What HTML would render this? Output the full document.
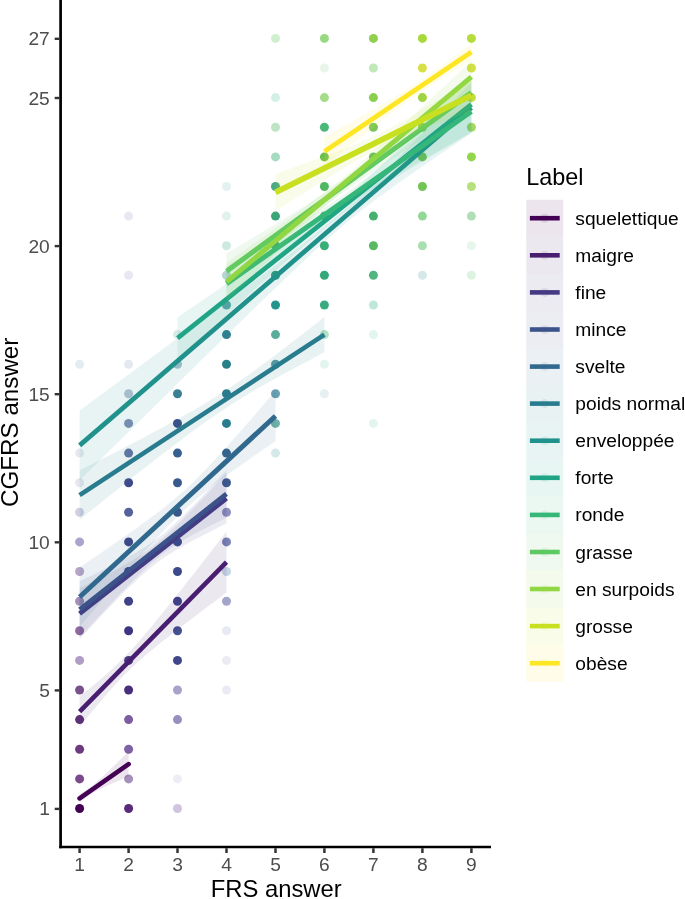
<!DOCTYPE html>
<html lang="fr"><head><meta charset="utf-8"><title>CGFRS answer vs FRS answer</title>
<style>
html,body{margin:0;padding:0;background:#fff;}
body{width:685px;height:899px;overflow:hidden;}
svg{display:block;}
text{font-family:"Liberation Sans",sans-serif;}
.tick{font-size:19.2px;fill:#4d4d4d;}
.ttl{font-size:23.4px;fill:#000;}
.leg{font-size:19.2px;fill:#000;}
</style></head><body>
<svg width="685" height="899" viewBox="0 0 685 899">
<rect width="685" height="899" fill="#ffffff"/>
<g id="points">
<circle cx="79.6" cy="808.5" r="4.50" fill="#440154"/>
<circle cx="79.6" cy="778.9" r="4.50" fill="#7a4a8a"/>
<circle cx="79.6" cy="749.3" r="4.50" fill="#6e3a7e"/>
<circle cx="79.6" cy="719.6" r="4.50" fill="#5e3078"/>
<circle cx="79.6" cy="690.0" r="4.50" fill="#7a4f8e"/>
<circle cx="79.6" cy="660.4" r="4.50" fill="#b09cc4"/>
<circle cx="79.6" cy="630.8" r="4.50" fill="#8f6a9f"/>
<circle cx="79.6" cy="601.2" r="4.50" fill="#a38fb8"/>
<circle cx="79.6" cy="571.5" r="4.50" fill="#b7a5c8"/>
<circle cx="79.6" cy="541.9" r="4.50" fill="#a9a5cc"/>
<circle cx="79.6" cy="512.3" r="4.50" fill="#d0d0e3"/>
<circle cx="79.6" cy="482.7" r="4.50" fill="#e8e6f0"/>
<circle cx="79.6" cy="453.1" r="4.50" fill="#e6e8f1"/>
<circle cx="79.6" cy="364.2" r="4.50" fill="#e3ecf0"/>
<circle cx="128.6" cy="808.5" r="4.50" fill="#5a2a7a"/>
<circle cx="128.6" cy="778.9" r="4.50" fill="#a58fbb"/>
<circle cx="128.6" cy="749.3" r="4.50" fill="#7e62a3"/>
<circle cx="128.6" cy="719.6" r="4.50" fill="#7c5ea0"/>
<circle cx="128.6" cy="690.0" r="4.50" fill="#46307c"/>
<circle cx="128.6" cy="660.4" r="4.50" fill="#4a3a85"/>
<circle cx="128.6" cy="630.8" r="4.50" fill="#3c3580"/>
<circle cx="128.6" cy="601.2" r="4.50" fill="#3f4287"/>
<circle cx="128.6" cy="571.5" r="4.50" fill="#3d3f85"/>
<circle cx="128.6" cy="541.9" r="4.50" fill="#3e4688"/>
<circle cx="128.6" cy="512.3" r="4.50" fill="#55629c"/>
<circle cx="128.6" cy="482.7" r="4.50" fill="#3f4a8a"/>
<circle cx="128.6" cy="453.1" r="4.50" fill="#6474a6"/>
<circle cx="128.6" cy="423.4" r="4.50" fill="#7f8db5"/>
<circle cx="128.6" cy="393.8" r="4.50" fill="#b5c2d4"/>
<circle cx="128.6" cy="364.2" r="4.50" fill="#e4e9ef"/>
<circle cx="128.6" cy="275.3" r="4.50" fill="#e8e8f2"/>
<circle cx="128.6" cy="216.1" r="4.50" fill="#e8e8f3"/>
<circle cx="177.5" cy="808.5" r="4.50" fill="#cfc5de"/>
<circle cx="177.5" cy="778.9" r="4.50" fill="#eeecf4"/>
<circle cx="177.5" cy="719.6" r="4.50" fill="#9590c0"/>
<circle cx="177.5" cy="690.0" r="4.50" fill="#a9a3cc"/>
<circle cx="177.5" cy="660.4" r="4.50" fill="#3f4788"/>
<circle cx="177.5" cy="630.8" r="4.50" fill="#45508f"/>
<circle cx="177.5" cy="601.2" r="4.50" fill="#3f4589"/>
<circle cx="177.5" cy="571.5" r="4.50" fill="#3d4a8a"/>
<circle cx="177.5" cy="541.9" r="4.50" fill="#3d4c8b"/>
<circle cx="177.5" cy="512.3" r="4.50" fill="#3c548c"/>
<circle cx="177.5" cy="482.7" r="4.50" fill="#3a5a8e"/>
<circle cx="177.5" cy="453.1" r="4.50" fill="#36608f"/>
<circle cx="177.5" cy="423.4" r="4.50" fill="#3a4f8b"/>
<circle cx="177.5" cy="393.8" r="4.50" fill="#3a8095"/>
<circle cx="177.5" cy="364.2" r="4.50" fill="#a5bfcf"/>
<circle cx="177.5" cy="334.6" r="4.50" fill="#d8ebea"/>
<circle cx="226.5" cy="690.0" r="4.50" fill="#ecebf4"/>
<circle cx="226.5" cy="660.4" r="4.50" fill="#ebebf4"/>
<circle cx="226.5" cy="630.8" r="4.50" fill="#e8eaf3"/>
<circle cx="226.5" cy="601.2" r="4.50" fill="#a5a5cc"/>
<circle cx="226.5" cy="571.5" r="4.50" fill="#c5d5e5"/>
<circle cx="226.5" cy="541.9" r="4.50" fill="#7a82b5"/>
<circle cx="226.5" cy="512.3" r="4.50" fill="#8e8fc0"/>
<circle cx="226.5" cy="482.7" r="4.50" fill="#3d5a90"/>
<circle cx="226.5" cy="453.1" r="4.50" fill="#35628f"/>
<circle cx="226.5" cy="423.4" r="4.50" fill="#287c8e"/>
<circle cx="226.5" cy="393.8" r="4.50" fill="#2a7a8e"/>
<circle cx="226.5" cy="364.2" r="4.50" fill="#2a8088"/>
<circle cx="226.5" cy="334.6" r="4.50" fill="#2f7f90"/>
<circle cx="226.5" cy="305.0" r="4.50" fill="#5fa6a8"/>
<circle cx="226.5" cy="275.3" r="4.50" fill="#b5d5d5"/>
<circle cx="226.5" cy="245.7" r="4.50" fill="#cdeae0"/>
<circle cx="226.5" cy="216.1" r="4.50" fill="#e0f2ee"/>
<circle cx="226.5" cy="186.5" r="4.50" fill="#e3f2f0"/>
<circle cx="275.5" cy="453.1" r="4.50" fill="#d5e8ea"/>
<circle cx="275.5" cy="423.4" r="4.50" fill="#6fb0a8"/>
<circle cx="275.5" cy="393.8" r="4.50" fill="#68a0b2"/>
<circle cx="275.5" cy="364.2" r="4.50" fill="#5a9aa5"/>
<circle cx="275.5" cy="334.6" r="4.50" fill="#5aad9c"/>
<circle cx="275.5" cy="305.0" r="4.50" fill="#23958a"/>
<circle cx="275.5" cy="275.3" r="4.50" fill="#2f9a80"/>
<circle cx="275.5" cy="245.7" r="4.50" fill="#35a07a"/>
<circle cx="275.5" cy="216.1" r="4.50" fill="#3aa577"/>
<circle cx="275.5" cy="186.5" r="4.50" fill="#4aa887"/>
<circle cx="275.5" cy="156.9" r="4.50" fill="#a5dcc0"/>
<circle cx="275.5" cy="127.2" r="4.50" fill="#bfe3c5"/>
<circle cx="275.5" cy="97.6" r="4.50" fill="#d3efe8"/>
<circle cx="275.5" cy="38.4" r="4.50" fill="#d0efd0"/>
<circle cx="324.4" cy="393.8" r="4.50" fill="#e6f0f2"/>
<circle cx="324.4" cy="364.2" r="4.50" fill="#e3f5ee"/>
<circle cx="324.4" cy="334.6" r="4.50" fill="#b4e1c4"/>
<circle cx="324.4" cy="305.0" r="4.50" fill="#3aab80"/>
<circle cx="324.4" cy="275.3" r="4.50" fill="#35a87a"/>
<circle cx="324.4" cy="245.7" r="4.50" fill="#3aae78"/>
<circle cx="324.4" cy="216.1" r="4.50" fill="#4ab070"/>
<circle cx="324.4" cy="186.5" r="4.50" fill="#50b860"/>
<circle cx="324.4" cy="156.9" r="4.50" fill="#68bf50"/>
<circle cx="324.4" cy="127.2" r="4.50" fill="#4ab878"/>
<circle cx="324.4" cy="97.6" r="4.50" fill="#a5dc8a"/>
<circle cx="324.4" cy="68.0" r="4.50" fill="#e8f6ea"/>
<circle cx="324.4" cy="38.4" r="4.50" fill="#98d880"/>
<circle cx="373.4" cy="423.4" r="4.50" fill="#e2f5ee"/>
<circle cx="373.4" cy="334.6" r="4.50" fill="#e2f5ee"/>
<circle cx="373.4" cy="305.0" r="4.50" fill="#c0e8d8"/>
<circle cx="373.4" cy="275.3" r="4.50" fill="#52b680"/>
<circle cx="373.4" cy="245.7" r="4.50" fill="#5ab860"/>
<circle cx="373.4" cy="216.1" r="4.50" fill="#45b070"/>
<circle cx="373.4" cy="156.9" r="4.50" fill="#6fc05a"/>
<circle cx="373.4" cy="127.2" r="4.50" fill="#7cc458"/>
<circle cx="373.4" cy="97.6" r="4.50" fill="#8bcf4f"/>
<circle cx="373.4" cy="68.0" r="4.50" fill="#c0e8b8"/>
<circle cx="373.4" cy="38.4" r="4.50" fill="#8fd04e"/>
<circle cx="422.4" cy="275.3" r="4.50" fill="#d5e8ea"/>
<circle cx="422.4" cy="245.7" r="4.50" fill="#a9dfb0"/>
<circle cx="422.4" cy="216.1" r="4.50" fill="#94d898"/>
<circle cx="422.4" cy="186.5" r="4.50" fill="#72c455"/>
<circle cx="422.4" cy="156.9" r="4.50" fill="#7cc650"/>
<circle cx="422.4" cy="127.2" r="4.50" fill="#8fcf4a"/>
<circle cx="422.4" cy="97.6" r="4.50" fill="#9fd43f"/>
<circle cx="422.4" cy="68.0" r="4.50" fill="#d8e048"/>
<circle cx="422.4" cy="38.4" r="4.50" fill="#a8d93a"/>
<circle cx="471.4" cy="275.3" r="4.50" fill="#dcf3df"/>
<circle cx="471.4" cy="245.7" r="4.50" fill="#e6f6ec"/>
<circle cx="471.4" cy="216.1" r="4.50" fill="#b0deb5"/>
<circle cx="471.4" cy="186.5" r="4.50" fill="#b5e27a"/>
<circle cx="471.4" cy="156.9" r="4.50" fill="#92d64a"/>
<circle cx="471.4" cy="127.2" r="4.50" fill="#a5d860"/>
<circle cx="471.4" cy="97.6" r="4.50" fill="#c5dc40"/>
<circle cx="471.4" cy="68.0" r="4.50" fill="#d3e044"/>
<circle cx="471.4" cy="38.4" r="4.50" fill="#b5dc38"/>
</g>
<g id="smooth">
<polygon points="79.6,793.7 81.1,792.9 82.7,792.0 84.2,791.1 85.7,790.2 87.3,789.2 88.8,788.1 90.3,787.0 91.8,785.9 93.4,784.7 94.9,783.4 96.4,782.2 98.0,780.8 99.5,779.5 101.0,778.1 102.6,776.7 104.1,775.3 105.6,773.9 107.1,772.4 108.7,771.0 110.2,769.5 111.7,768.1 113.3,766.6 114.8,765.1 116.3,763.6 117.9,762.1 119.4,760.6 120.9,759.1 122.4,757.6 124.0,756.1 125.5,754.6 127.0,753.1 128.6,751.6 128.6,776.5 127.0,777.2 125.5,777.8 124.0,778.4 122.4,779.1 120.9,779.7 119.4,780.4 117.9,781.0 116.3,781.7 114.8,782.4 113.3,783.0 111.7,783.7 110.2,784.4 108.7,785.1 107.1,785.8 105.6,786.5 104.1,787.2 102.6,787.9 101.0,788.7 99.5,789.5 98.0,790.3 96.4,791.1 94.9,791.9 93.4,792.8 91.8,793.8 90.3,794.8 88.8,795.8 87.3,796.9 85.7,798.1 84.2,799.3 82.7,800.6 81.1,801.8 79.6,803.2" fill="#440154" fill-opacity="0.10"/>
<line x1="79.6" y1="798.4" x2="128.6" y2="764.1" stroke="#440154" stroke-width="4.6" stroke-linecap="round"/>
<polygon points="79.6,696.2 84.2,692.6 88.8,688.9 93.4,685.2 98.0,681.4 102.6,677.5 107.1,673.5 111.7,669.4 116.3,665.1 120.9,660.6 125.5,656.0 130.1,651.2 134.7,646.1 139.3,641.0 143.9,635.6 148.5,630.2 153.1,624.7 157.6,619.1 162.2,613.4 166.8,607.7 171.4,602.0 176.0,596.2 180.6,590.4 185.2,584.6 189.8,578.7 194.4,572.9 199.0,567.0 203.6,561.1 208.1,555.2 212.7,549.3 217.3,543.4 221.9,537.5 226.5,531.6 226.5,592.6 221.9,596.0 217.3,599.4 212.7,602.9 208.1,606.3 203.6,609.8 199.0,613.2 194.4,616.7 189.8,620.2 185.2,623.7 180.6,627.2 176.0,630.8 171.4,634.3 166.8,637.9 162.2,641.6 157.6,645.3 153.1,649.0 148.5,652.8 143.9,656.8 139.3,660.8 134.7,665.0 130.1,669.3 125.5,673.8 120.9,678.5 116.3,683.4 111.7,688.5 107.1,693.7 102.6,699.0 98.0,704.5 93.4,710.0 88.8,715.6 84.2,721.3 79.6,727.0" fill="#481f70" fill-opacity="0.10"/>
<line x1="79.6" y1="711.6" x2="226.5" y2="562.1" stroke="#481f70" stroke-width="4.6"/>
<polygon points="79.6,588.1 84.2,585.9 88.8,583.6 93.4,581.3 98.0,579.0 102.6,576.7 107.1,574.3 111.7,571.9 116.3,569.4 120.9,566.9 125.5,564.4 130.1,561.7 134.7,558.9 139.3,556.0 143.9,552.9 148.5,549.7 153.1,546.2 157.6,542.5 162.2,538.6 166.8,534.5 171.4,530.3 176.0,525.9 180.6,521.4 185.2,516.8 189.8,512.1 194.4,507.3 199.0,502.5 203.6,497.7 208.1,492.9 212.7,488.0 217.3,483.1 221.9,478.1 226.5,473.2 226.5,523.6 221.9,525.8 217.3,528.1 212.7,530.4 208.1,532.7 203.6,535.0 199.0,537.4 194.4,539.8 189.8,542.3 185.2,544.8 180.6,547.4 176.0,550.1 171.4,552.9 166.8,555.8 162.2,558.9 157.6,562.2 153.1,565.8 148.5,569.5 143.9,573.4 139.3,577.6 134.7,581.9 130.1,586.3 125.5,590.8 120.9,595.5 116.3,600.1 111.7,604.9 107.1,609.7 102.6,614.5 98.0,619.4 93.4,624.3 88.8,629.2 84.2,634.1 79.6,639.1" fill="#443983" fill-opacity="0.10"/>
<line x1="79.6" y1="613.6" x2="226.5" y2="498.4" stroke="#443983" stroke-width="4.7"/>
<polygon points="79.6,581.3 84.2,579.1 88.8,576.9 93.4,574.7 98.0,572.4 102.6,570.1 107.1,567.8 111.7,565.5 116.3,563.2 120.9,560.8 125.5,558.3 130.1,555.8 134.7,553.2 139.3,550.6 143.9,547.7 148.5,544.8 153.1,541.6 157.6,538.3 162.2,534.7 166.8,530.9 171.4,526.8 176.0,522.6 180.6,518.2 185.2,513.7 189.8,509.1 194.4,504.4 199.0,499.7 203.6,494.8 208.1,490.0 212.7,485.1 217.3,480.2 221.9,475.2 226.5,470.2 226.5,517.6 221.9,519.9 217.3,522.2 212.7,524.5 208.1,526.8 203.6,529.1 199.0,531.5 194.4,534.0 189.8,536.5 185.2,539.1 180.6,541.8 176.0,544.7 171.4,547.7 166.8,550.9 162.2,554.3 157.6,557.9 153.1,561.8 148.5,565.8 143.9,570.1 139.3,574.5 134.7,579.0 130.1,583.7 125.5,588.4 120.9,593.1 116.3,598.0 111.7,602.8 107.1,607.7 102.6,612.7 98.0,617.6 93.4,622.6 88.8,627.6 84.2,632.6 79.6,637.6" fill="#3b528b" fill-opacity="0.10"/>
<line x1="79.6" y1="609.5" x2="226.5" y2="493.9" stroke="#3b528b" stroke-width="4.7"/>
<polygon points="79.6,567.4 85.7,563.2 91.8,559.1 98.0,554.9 104.1,550.7 110.2,546.5 116.3,542.3 122.4,538.0 128.6,533.7 134.7,529.4 140.8,525.0 146.9,520.5 153.1,516.0 159.2,511.4 165.3,506.6 171.4,501.6 177.5,496.5 183.7,491.1 189.8,485.4 195.9,479.5 202.0,473.3 208.1,467.0 214.3,460.4 220.4,453.8 226.5,447.0 232.6,440.1 238.8,433.2 244.9,426.2 251.0,419.2 257.1,412.2 263.2,405.1 269.4,398.0 275.5,390.9 275.5,441.2 269.4,445.4 263.2,449.6 257.1,453.8 251.0,458.1 244.9,462.4 238.8,466.7 232.6,471.1 226.5,475.6 220.4,480.1 214.3,484.7 208.1,489.5 202.0,494.5 195.9,499.6 189.8,505.0 183.7,510.7 177.5,516.6 171.4,522.7 165.3,529.1 159.2,535.6 153.1,542.3 146.9,549.1 140.8,555.9 134.7,562.8 128.6,569.8 122.4,576.8 116.3,583.9 110.2,591.0 104.1,598.1 98.0,605.2 91.8,612.3 85.7,619.5 79.6,626.6" fill="#31688e" fill-opacity="0.10"/>
<line x1="79.6" y1="597.0" x2="275.5" y2="416.0" stroke="#31688e" stroke-width="5.0"/>
<polygon points="79.6,470.5 87.3,466.6 94.9,462.7 102.6,458.8 110.2,454.9 117.9,450.9 125.5,446.9 133.2,443.0 140.8,439.0 148.5,434.9 156.1,430.8 163.8,426.7 171.4,422.6 179.1,418.4 186.7,414.1 194.4,409.7 202.0,405.2 209.7,400.6 217.3,395.8 225.0,390.9 232.6,385.8 240.3,380.6 247.9,375.2 255.6,369.7 263.2,364.1 270.9,358.4 278.5,352.6 286.2,346.7 293.8,340.8 301.5,334.9 309.1,328.9 316.8,322.9 324.4,316.8 324.4,352.4 316.8,356.3 309.1,360.4 301.5,364.4 293.8,368.5 286.2,372.6 278.5,376.8 270.9,381.0 263.2,385.3 255.6,389.7 247.9,394.3 240.3,398.9 232.6,403.7 225.0,408.7 217.3,413.8 209.7,419.1 202.0,424.5 194.4,430.0 186.7,435.7 179.1,441.4 171.4,447.3 163.8,453.1 156.1,459.1 148.5,465.0 140.8,471.0 133.2,477.0 125.5,483.1 117.9,489.2 110.2,495.2 102.6,501.3 94.9,507.5 87.3,513.6 79.6,519.7" fill="#287c8e" fill-opacity="0.10"/>
<line x1="79.6" y1="495.1" x2="324.4" y2="334.6" stroke="#287c8e" stroke-width="4.7"/>
<polygon points="79.6,410.4 91.8,401.4 104.1,392.4 116.3,383.4 128.6,374.4 140.8,365.4 153.1,356.3 165.3,347.3 177.5,338.3 189.8,329.2 202.0,320.1 214.3,311.0 226.5,301.9 238.8,292.8 251.0,283.6 263.2,274.4 275.5,265.2 287.7,255.8 300.0,246.3 312.2,236.7 324.4,226.8 336.7,216.6 348.9,206.0 361.2,194.8 373.4,183.0 385.7,170.9 397.9,158.4 410.1,145.9 422.4,133.3 434.6,120.5 446.9,107.8 459.1,95.0 471.4,82.2 471.4,133.2 459.1,141.5 446.9,149.8 434.6,158.1 422.4,166.5 410.1,175.0 397.9,183.6 385.7,192.3 373.4,201.2 361.2,210.5 348.9,220.4 336.7,230.9 324.4,241.9 312.2,253.1 300.0,264.5 287.7,276.2 275.5,287.9 263.2,299.7 251.0,311.6 238.8,323.5 226.5,335.5 214.3,347.5 202.0,359.5 189.8,371.6 177.5,383.6 165.3,395.7 153.1,407.8 140.8,419.8 128.6,431.9 116.3,444.0 104.1,456.1 91.8,468.2 79.6,480.3" fill="#21918c" fill-opacity="0.10"/>
<line x1="79.6" y1="445.4" x2="471.4" y2="107.7" stroke="#21918c" stroke-width="4.7"/>
<polygon points="177.5,317.4 186.7,311.1 195.9,304.8 205.1,298.5 214.3,292.2 223.4,285.8 232.6,279.5 241.8,273.1 251.0,266.7 260.2,260.3 269.4,253.8 278.5,247.3 287.7,240.8 296.9,234.2 306.1,227.5 315.3,220.7 324.4,213.8 333.6,206.8 342.8,199.6 352.0,192.1 361.2,184.1 370.4,175.7 379.5,167.1 388.7,158.3 397.9,149.3 407.1,140.3 416.3,131.2 425.5,122.1 434.6,113.0 443.8,103.9 453.0,94.7 462.2,85.5 471.4,76.3 471.4,132.6 462.2,138.0 453.0,143.4 443.8,148.8 434.6,154.3 425.5,159.8 416.3,165.3 407.1,170.8 397.9,176.4 388.7,182.1 379.5,187.9 370.4,193.8 361.2,200.1 352.0,206.7 342.8,213.8 333.6,221.2 324.4,228.8 315.3,236.5 306.1,244.3 296.9,252.2 287.7,260.2 278.5,268.3 269.4,276.4 260.2,284.5 251.0,292.7 241.8,300.9 232.6,309.2 223.4,317.4 214.3,325.7 205.1,334.0 195.9,342.3 186.7,350.6 177.5,358.9" fill="#20a486" fill-opacity="0.10"/>
<line x1="177.5" y1="338.1" x2="471.4" y2="104.4" stroke="#20a486" stroke-width="4.7"/>
<polygon points="226.5,265.9 234.2,261.5 241.8,257.2 249.5,252.8 257.1,248.4 264.8,244.0 272.4,239.6 280.1,235.1 287.7,230.6 295.4,226.1 303.0,221.5 310.7,216.7 318.3,211.9 326.0,206.9 333.6,201.8 341.3,196.4 348.9,190.9 356.6,185.2 364.2,179.3 371.9,173.3 379.5,167.2 387.2,161.0 394.8,154.8 402.5,148.5 410.1,142.1 417.8,135.8 425.5,129.4 433.1,123.0 440.8,116.6 448.4,110.2 456.1,103.7 463.7,97.3 471.4,90.8 471.4,132.3 463.7,136.6 456.1,140.9 448.4,145.2 440.8,149.5 433.1,153.9 425.5,158.2 417.8,162.6 410.1,167.0 402.5,171.4 394.8,175.9 387.2,180.4 379.5,184.9 371.9,189.6 364.2,194.3 356.6,199.2 348.9,204.3 341.3,209.5 333.6,214.9 326.0,220.5 318.3,226.3 310.7,232.2 303.0,238.3 295.4,244.4 287.7,250.6 280.1,256.8 272.4,263.1 264.8,269.5 257.1,275.8 249.5,282.2 241.8,288.6 234.2,295.0 226.5,301.4" fill="#35b779" fill-opacity="0.10"/>
<line x1="226.5" y1="283.6" x2="471.4" y2="111.5" stroke="#35b779" stroke-width="5.0"/>
<polygon points="226.5,253.4 234.2,248.9 241.8,244.3 249.5,239.8 257.1,235.2 264.8,230.6 272.4,225.9 280.1,221.3 287.7,216.6 295.4,211.8 303.0,207.0 310.7,202.1 318.3,197.0 326.0,191.8 333.6,186.5 341.3,181.0 348.9,175.3 356.6,169.6 364.2,163.7 371.9,157.8 379.5,151.9 387.2,145.9 394.8,139.8 402.5,133.7 410.1,127.6 417.8,121.4 425.5,115.2 433.1,109.0 440.8,102.8 448.4,96.6 456.1,90.3 463.7,84.0 471.4,77.8 471.4,107.4 463.7,112.3 456.1,117.2 448.4,122.1 440.8,127.0 433.1,132.0 425.5,136.9 417.8,141.9 410.1,146.9 402.5,151.9 394.8,157.0 387.2,162.1 379.5,167.2 371.9,172.4 364.2,177.7 356.6,183.1 348.9,188.5 341.3,194.0 333.6,199.6 326.0,205.4 318.3,211.4 310.7,217.5 303.0,223.8 295.4,230.1 287.7,236.5 280.1,243.0 272.4,249.5 264.8,256.0 257.1,262.6 249.5,269.1 241.8,275.7 234.2,282.3 226.5,289.0" fill="#5ec962" fill-opacity="0.10"/>
<line x1="226.5" y1="271.2" x2="471.4" y2="92.6" stroke="#5ec962" stroke-width="5.0"/>
<polygon points="226.5,262.6 234.2,257.3 241.8,251.9 249.5,246.5 257.1,241.2 264.8,235.8 272.4,230.4 280.1,224.9 287.7,219.5 295.4,213.9 303.0,208.4 310.7,202.8 318.3,197.1 326.0,191.2 333.6,185.3 341.3,179.2 348.9,172.9 356.6,166.4 364.2,159.8 371.9,153.1 379.5,146.2 387.2,139.3 394.8,132.3 402.5,125.3 410.1,118.2 417.8,111.1 425.5,103.9 433.1,96.8 440.8,89.6 448.4,82.3 456.1,75.1 463.7,67.9 471.4,60.6 471.4,93.2 463.7,98.7 456.1,104.3 448.4,109.9 440.8,115.5 433.1,121.1 425.5,126.7 417.8,132.4 410.1,138.0 402.5,143.8 394.8,149.5 387.2,155.4 379.5,161.3 371.9,167.2 364.2,173.3 356.6,179.5 348.9,185.9 341.3,192.4 333.6,199.1 326.0,205.9 318.3,212.9 310.7,220.0 303.0,227.2 295.4,234.5 287.7,241.8 280.1,249.1 272.4,256.5 264.8,263.9 257.1,271.3 249.5,278.7 241.8,286.2 234.2,293.6 226.5,301.1" fill="#90d743" fill-opacity="0.10"/>
<line x1="226.5" y1="281.9" x2="471.4" y2="76.9" stroke="#90d743" stroke-width="5.0"/>
<polygon points="275.5,173.7 281.6,171.6 287.7,169.5 293.8,167.3 300.0,165.1 306.1,163.0 312.2,160.8 318.3,158.5 324.4,156.3 330.6,154.0 336.7,151.7 342.8,149.3 348.9,146.9 355.1,144.4 361.2,141.8 367.3,139.1 373.4,136.3 379.5,133.4 385.7,130.3 391.8,127.1 397.9,123.8 404.0,120.4 410.1,116.9 416.3,113.3 422.4,109.6 428.5,105.9 434.6,102.1 440.8,98.3 446.9,94.5 453.0,90.6 459.1,86.8 465.2,82.9 471.4,79.0 471.4,111.5 465.2,113.7 459.1,115.9 453.0,118.1 446.9,120.3 440.8,122.5 434.6,124.8 428.5,127.1 422.4,129.5 416.3,131.9 410.1,134.3 404.0,136.9 397.9,139.5 391.8,142.3 385.7,145.2 379.5,148.2 373.4,151.3 367.3,154.6 361.2,158.0 355.1,161.5 348.9,165.1 342.8,168.7 336.7,172.4 330.6,176.2 324.4,179.9 318.3,183.8 312.2,187.6 306.1,191.5 300.0,195.4 293.8,199.3 287.7,203.2 281.6,207.1 275.5,211.1" fill="#c8e020" fill-opacity="0.10"/>
<line x1="275.5" y1="192.4" x2="471.4" y2="95.3" stroke="#c8e020" stroke-width="5.8"/>
<polygon points="324.4,136.7 329.0,134.2 333.6,131.6 338.2,129.1 342.8,126.6 347.4,124.0 352.0,121.4 356.6,118.9 361.2,116.3 365.8,113.7 370.4,111.1 375.0,108.4 379.5,105.8 384.1,103.1 388.7,100.4 393.3,97.7 397.9,94.9 402.5,92.1 407.1,89.2 411.7,86.3 416.3,83.3 420.9,80.3 425.5,77.2 430.0,74.0 434.6,70.8 439.2,67.5 443.8,64.1 448.4,60.7 453.0,57.2 457.6,53.8 462.2,50.2 466.8,46.7 471.4,43.1 471.4,60.9 466.8,63.5 462.2,66.2 457.6,68.9 453.0,71.6 448.4,74.4 443.8,77.2 439.2,80.1 434.6,83.0 430.0,86.0 425.5,89.0 420.9,92.1 416.3,95.3 411.7,98.6 407.1,101.9 402.5,105.2 397.9,108.6 393.3,112.1 388.7,115.6 384.1,119.1 379.5,122.6 375.0,126.2 370.4,129.8 365.8,133.4 361.2,137.0 356.6,140.7 352.0,144.3 347.4,148.0 342.8,151.6 338.2,155.3 333.6,159.0 329.0,162.7 324.4,166.3" fill="#fde725" fill-opacity="0.10"/>
<line x1="324.4" y1="151.5" x2="471.4" y2="52.0" stroke="#fde725" stroke-width="4.7"/>
</g>
<g id="axes" stroke-linecap="butt">
<line x1="60.60" y1="0" x2="60.60" y2="848.25" stroke="#000" stroke-width="2.7"/>
<line x1="59.25" y1="846.95" x2="491" y2="846.95" stroke="#000" stroke-width="2.6"/>
<line x1="79.6" y1="848.2" x2="79.6" y2="853.0" stroke="#333" stroke-width="2.5"/>
<text class="tick" x="79.6" y="870.9" text-anchor="middle">1</text>
<line x1="128.6" y1="848.2" x2="128.6" y2="853.0" stroke="#333" stroke-width="2.5"/>
<text class="tick" x="128.6" y="870.9" text-anchor="middle">2</text>
<line x1="177.5" y1="848.2" x2="177.5" y2="853.0" stroke="#333" stroke-width="2.5"/>
<text class="tick" x="177.5" y="870.9" text-anchor="middle">3</text>
<line x1="226.5" y1="848.2" x2="226.5" y2="853.0" stroke="#333" stroke-width="2.5"/>
<text class="tick" x="226.5" y="870.9" text-anchor="middle">4</text>
<line x1="275.5" y1="848.2" x2="275.5" y2="853.0" stroke="#333" stroke-width="2.5"/>
<text class="tick" x="275.5" y="870.9" text-anchor="middle">5</text>
<line x1="324.4" y1="848.2" x2="324.4" y2="853.0" stroke="#333" stroke-width="2.5"/>
<text class="tick" x="324.4" y="870.9" text-anchor="middle">6</text>
<line x1="373.4" y1="848.2" x2="373.4" y2="853.0" stroke="#333" stroke-width="2.5"/>
<text class="tick" x="373.4" y="870.9" text-anchor="middle">7</text>
<line x1="422.4" y1="848.2" x2="422.4" y2="853.0" stroke="#333" stroke-width="2.5"/>
<text class="tick" x="422.4" y="870.9" text-anchor="middle">8</text>
<line x1="471.4" y1="848.2" x2="471.4" y2="853.0" stroke="#333" stroke-width="2.5"/>
<text class="tick" x="471.4" y="870.9" text-anchor="middle">9</text>
<line x1="54.7" y1="808.9" x2="59.4" y2="808.9" stroke="#333" stroke-width="2.4"/>
<text class="tick" x="49.8" y="815.4" text-anchor="end">1</text>
<line x1="54.7" y1="690.4" x2="59.4" y2="690.4" stroke="#333" stroke-width="2.4"/>
<text class="tick" x="49.8" y="696.9" text-anchor="end">5</text>
<line x1="54.7" y1="542.3" x2="59.4" y2="542.3" stroke="#333" stroke-width="2.4"/>
<text class="tick" x="49.8" y="548.8" text-anchor="end">10</text>
<line x1="54.7" y1="394.2" x2="59.4" y2="394.2" stroke="#333" stroke-width="2.4"/>
<text class="tick" x="49.8" y="400.7" text-anchor="end">15</text>
<line x1="54.7" y1="246.1" x2="59.4" y2="246.1" stroke="#333" stroke-width="2.4"/>
<text class="tick" x="49.8" y="252.6" text-anchor="end">20</text>
<line x1="54.7" y1="98.0" x2="59.4" y2="98.0" stroke="#333" stroke-width="2.4"/>
<text class="tick" x="49.8" y="104.5" text-anchor="end">25</text>
<line x1="54.7" y1="38.8" x2="59.4" y2="38.8" stroke="#333" stroke-width="2.4"/>
<text class="tick" x="49.8" y="45.3" text-anchor="end">27</text>
</g>
<text class="ttl" style="font-size:23.8px" x="276.2" y="897" text-anchor="middle">FRS answer</text>
<text class="ttl" style="font-size:24.2px" transform="translate(17.9,422.3) rotate(-90)" text-anchor="middle">CGFRS answer</text>
<g id="legend">
<text class="ttl" x="526.3" y="185.2">Label</text>
<rect x="526.2" y="199.70" width="37" height="37.08" fill="#440154" fill-opacity="0.10"/>
<circle cx="544.7" cy="218.2" r="4.50" fill="#440154" fill-opacity="0.10"/>
<line x1="529.9" y1="218.2" x2="559.7" y2="218.2" stroke="#440154" stroke-width="4.6"/>
<text class="leg" x="575.3" y="224.7">squelettique</text>
<rect x="526.2" y="236.78" width="37" height="37.08" fill="#481f70" fill-opacity="0.10"/>
<circle cx="544.7" cy="255.3" r="4.50" fill="#481f70" fill-opacity="0.10"/>
<line x1="529.9" y1="255.3" x2="559.7" y2="255.3" stroke="#481f70" stroke-width="4.6"/>
<text class="leg" x="575.3" y="261.8">maigre</text>
<rect x="526.2" y="273.86" width="37" height="37.08" fill="#443983" fill-opacity="0.10"/>
<circle cx="544.7" cy="292.4" r="4.50" fill="#443983" fill-opacity="0.10"/>
<line x1="529.9" y1="292.4" x2="559.7" y2="292.4" stroke="#443983" stroke-width="4.6"/>
<text class="leg" x="575.3" y="298.9">fine</text>
<rect x="526.2" y="310.94" width="37" height="37.08" fill="#3b528b" fill-opacity="0.10"/>
<circle cx="544.7" cy="329.5" r="4.50" fill="#3b528b" fill-opacity="0.10"/>
<line x1="529.9" y1="329.5" x2="559.7" y2="329.5" stroke="#3b528b" stroke-width="4.6"/>
<text class="leg" x="575.3" y="336.0">mince</text>
<rect x="526.2" y="348.02" width="37" height="37.08" fill="#31688e" fill-opacity="0.10"/>
<circle cx="544.7" cy="366.6" r="4.50" fill="#31688e" fill-opacity="0.10"/>
<line x1="529.9" y1="366.6" x2="559.7" y2="366.6" stroke="#31688e" stroke-width="4.6"/>
<text class="leg" x="575.3" y="373.1">svelte</text>
<rect x="526.2" y="385.10" width="37" height="37.08" fill="#287c8e" fill-opacity="0.10"/>
<circle cx="544.7" cy="403.6" r="4.50" fill="#287c8e" fill-opacity="0.10"/>
<line x1="529.9" y1="403.6" x2="559.7" y2="403.6" stroke="#287c8e" stroke-width="4.6"/>
<text class="leg" x="575.3" y="410.1">poids normal</text>
<rect x="526.2" y="422.18" width="37" height="37.08" fill="#21918c" fill-opacity="0.10"/>
<circle cx="544.7" cy="440.7" r="4.50" fill="#21918c" fill-opacity="0.10"/>
<line x1="529.9" y1="440.7" x2="559.7" y2="440.7" stroke="#21918c" stroke-width="4.6"/>
<text class="leg" x="575.3" y="447.2">enveloppée</text>
<rect x="526.2" y="459.26" width="37" height="37.08" fill="#20a486" fill-opacity="0.10"/>
<circle cx="544.7" cy="477.8" r="4.50" fill="#20a486" fill-opacity="0.10"/>
<line x1="529.9" y1="477.8" x2="559.7" y2="477.8" stroke="#20a486" stroke-width="4.6"/>
<text class="leg" x="575.3" y="484.3">forte</text>
<rect x="526.2" y="496.34" width="37" height="37.08" fill="#35b779" fill-opacity="0.10"/>
<circle cx="544.7" cy="514.9" r="4.50" fill="#35b779" fill-opacity="0.10"/>
<line x1="529.9" y1="514.9" x2="559.7" y2="514.9" stroke="#35b779" stroke-width="4.6"/>
<text class="leg" x="575.3" y="521.4">ronde</text>
<rect x="526.2" y="533.42" width="37" height="37.08" fill="#5ec962" fill-opacity="0.10"/>
<circle cx="544.7" cy="552.0" r="4.50" fill="#5ec962" fill-opacity="0.10"/>
<line x1="529.9" y1="552.0" x2="559.7" y2="552.0" stroke="#5ec962" stroke-width="4.6"/>
<text class="leg" x="575.3" y="558.5">grasse</text>
<rect x="526.2" y="570.50" width="37" height="37.08" fill="#90d743" fill-opacity="0.10"/>
<circle cx="544.7" cy="589.0" r="4.50" fill="#90d743" fill-opacity="0.10"/>
<line x1="529.9" y1="589.0" x2="559.7" y2="589.0" stroke="#90d743" stroke-width="4.6"/>
<text class="leg" x="575.3" y="595.5">en surpoids</text>
<rect x="526.2" y="607.58" width="37" height="37.08" fill="#c8e020" fill-opacity="0.10"/>
<circle cx="544.7" cy="626.1" r="4.50" fill="#c8e020" fill-opacity="0.10"/>
<line x1="529.9" y1="626.1" x2="559.7" y2="626.1" stroke="#c8e020" stroke-width="4.6"/>
<text class="leg" x="575.3" y="632.6">grosse</text>
<rect x="526.2" y="644.66" width="37" height="37.08" fill="#fde725" fill-opacity="0.10"/>
<circle cx="544.7" cy="663.2" r="4.50" fill="#fde725" fill-opacity="0.10"/>
<line x1="529.9" y1="663.2" x2="559.7" y2="663.2" stroke="#fde725" stroke-width="4.6"/>
<text class="leg" x="575.3" y="669.7">obèse</text>
</g>
</svg></body></html>
